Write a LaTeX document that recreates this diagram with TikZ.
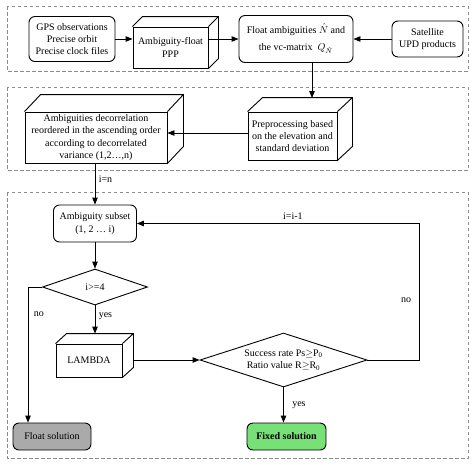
\documentclass[tikz,border=0pt]{standalone}
\usepackage{fontspec}
\setmainfont{Liberation Serif}
\usetikzlibrary{arrows.meta,calc,shapes.geometric}
\definecolor{framegray}{RGB}{140,140,140}
\definecolor{solgray}{RGB}{170,170,170}
\definecolor{solgreen}{RGB}{119,224,119}
\newcommand\cubeback[3]{%
  \draw[boxline] (#1.north west) -- ++(#2,-#3) -- ($(#1.north east)+(#2,-#3)$) -- ($(#1.south east)+(#2,-#3)$) -- (#1.south east)
    (#1.north east) -- ++(#2,-#3);}
\begin{document}
\begin{tikzpicture}[x=1pt,y=-1pt,
  txt/.style={font=\fontsize{10pt}{12.3pt}\selectfont, align=center},
  boxline/.style={draw=black, line width=0.9pt},
  rbox/.style={txt, boxline, rounded corners=6pt, inner sep=1pt},
  fbox/.style={txt, boxline, inner sep=1pt, fill=white},
  dia/.style={txt, boxline, diamond, inner sep=0pt},
  frame/.style={draw=framegray, line width=0.8pt, dash pattern=on 3.5pt off 2.5pt},
  arr/.style={draw=black, line width=0.9pt, -{Triangle[length=7pt,width=5.5pt]}},
  lbl/.style={txt}]
\useasboundingbox (0,0) rectangle (474,467);
% frames
\draw[frame] (7,6) rectangle (468,71);
\draw[frame] (7,87) rectangle (468,170);
\draw[frame] (7,192) rectangle (468,458);

% top row
\node[rbox, minimum width=86pt, minimum height=45pt] (gps) at (72,39) {GPS observations\\Precise orbit\\Precise clock files};
\node[fbox, minimum width=75pt, minimum height=41pt] (ppp) at (170.5,47.5) {Ambiguity-float\\PPP};
\cubeback{ppp}{10}{10}
\node[rbox, minimum width=114pt, minimum height=47pt] (famb) at (296,39) {Float ambiguities $\hat{N}$ and\\[5pt]the vc-matrix~ $Q_{\hat{N}}$};
\node[rbox, minimum width=71pt, minimum height=36pt] (sat) at (427.5,39) {Satellite\\UPD products};

\draw[arr] (gps.east) -- (gps.east -| ppp.west);
\draw[arr] (ppp.east |- famb.west) -- (famb.west);
\draw[arr] (sat.west) -- (famb.east);

% second row
\node[fbox, minimum width=142pt, minimum height=51pt] (dec) at (96,137.5) {Ambiguities decorrelation\\reordered in the ascending order\\according to decorrelated\\variance (1,2\ldots,n)};
\cubeback{dec}{16}{17}
\node[fbox, minimum width=89pt, minimum height=48pt] (pre) at (292.5,136) {Preprocessing based\\on the elevation and\\standard deviation};
\cubeback{pre}{15}{14}
\coordinate (pretop) at (312,98);
\draw[arr] (famb.south -| pretop) -- (pretop);
\coordinate (prel) at ($(pre.west)+(0,-3)$);
\draw[arr] (prel) -- (prel -| dec.east);

% third block
\node[rbox, minimum width=83pt, minimum height=37pt] (sub) at (95,223.5) {Ambiguity subset\\(1, 2 \ldots\ i)};
\draw[arr] (dec.south -| sub.north) -- (sub.north) node[lbl, pos=0.38, right] {i=n};

\node[dia, aspect=2.9, minimum width=105pt, minimum height=36pt] (d1) at (95,287) {i>=4};
\draw[arr] (sub.south) -- (d1.north);

\node[fbox, minimum width=66pt, minimum height=33pt] (lam) at (89,360.5) {LAMBDA};
\cubeback{lam}{11}{10}
\coordinate (lamtop) at ($(lam.north)+(0,-10)$);
\draw[arr] (d1.south) -- (d1.south |- lamtop) node[lbl, pos=0.4, right] {yes};

\node[dia, aspect=3.1, minimum width=167pt, minimum height=54pt] (d2) at (283.5,360) {Success rate Ps$\geq$P\textsubscript{0}\\Ratio value R$\geq$R\textsubscript{0}};
\coordinate (lamback) at ($(lam.east)+(11,0)$);
\draw[arr] (d2.west -| lamback) -- (d2.west);

\node[rbox, fill=solgray, minimum width=78pt, minimum height=27pt] (fsol) at (52,436.5) {Float solution};
\node[rbox, fill=solgreen, minimum width=79pt, minimum height=27pt, font=\fontsize{10pt}{12.3pt}\selectfont\bfseries] (xsol) at (286.5,436.5) {Fixed solution};

\coordinate (nob) at (28,287);
\draw[arr] (d1.west) -- (nob) -- (nob |- fsol.north) node[lbl, pos=0.2, right, xshift=2pt] {no};

\draw[arr] (d2.south) -- (d2.south |- xsol.north) node[lbl, midway, right, xshift=5pt] {yes};

\coordinate (fbc) at (419,223.5);
\draw[arr] (d2.east) -| (fbc) node[lbl, pos=0.72, left, xshift=-4pt] {no} -- (sub.east) node[lbl, pos=0.447, above] {i=i-1};
\end{tikzpicture}
\end{document}
